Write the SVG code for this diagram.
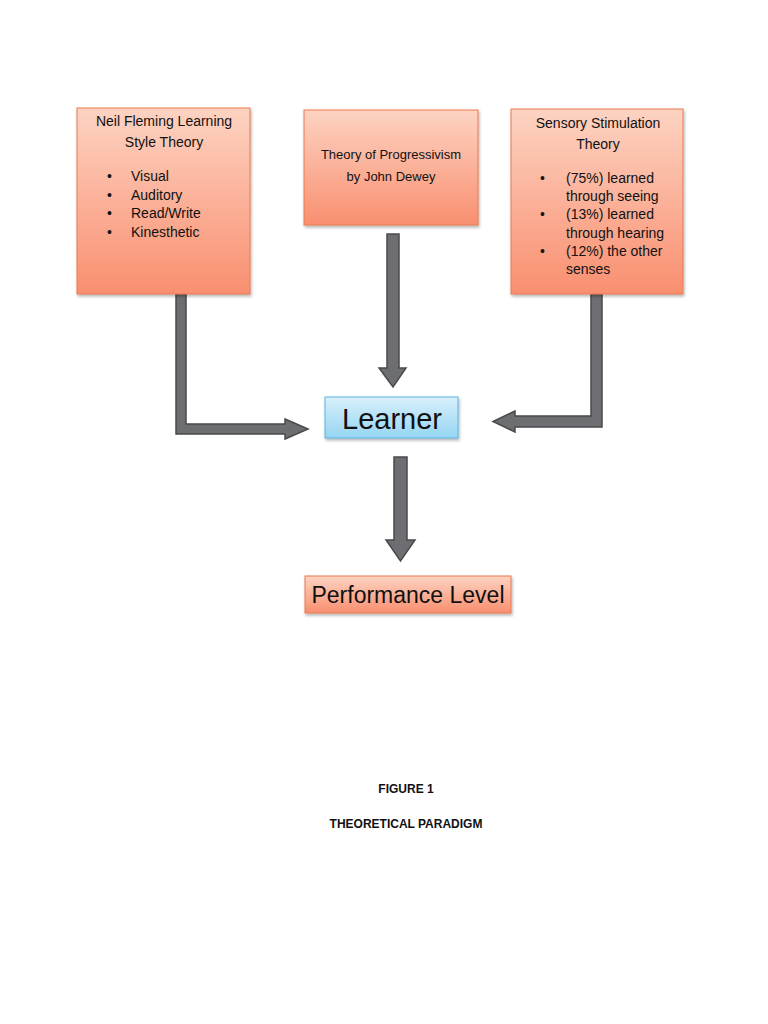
<svg xmlns="http://www.w3.org/2000/svg" width="768" height="1024" viewBox="0 0 768 1024">
<defs>
<linearGradient id="og" x1="0" y1="0" x2="0" y2="1"><stop offset="0" stop-color="#fdd3c2"/><stop offset="1" stop-color="#f98f70"/></linearGradient>
<linearGradient id="bg" x1="0" y1="0" x2="0" y2="1"><stop offset="0" stop-color="#d8f0fb"/><stop offset="1" stop-color="#95d5f2"/></linearGradient>
<filter id="sh" x="-10%" y="-10%" width="130%" height="130%"><feDropShadow dx="1" dy="2" stdDeviation="1.5" flood-opacity="0.3"/></filter>
</defs>
<style>
.o{fill:url(#og);stroke:#e97a4e;stroke-width:1;filter:url(#sh)}
.t{font-family:"Liberation Sans",Arial,sans-serif;fill:#111}
.a{fill:#6d6e71;stroke:#4a4a4c;stroke-width:1.5}
</style>
<rect width="768" height="1024" fill="#fff"/>
<g id="connectors">
<path class="a" d="M176,294 H186 V424 H285 V419 L308,429 L285,439 V434 H176 Z"/>
<path class="a" d="M387,234 H399 V368 H406 L393,387 L379,368 H387 Z"/>
<path class="a" d="M591,294 H602 V427 H515 V432 L493,421.5 L515,411 V416 H591 Z"/>
<path class="a" d="M394,457 H407 V540 H415 L400.5,561 L386,540 H394 Z"/>
</g>
<g id="neil">
<rect class="o" x="77" y="108" width="173" height="186"/>
<text class="t" font-size="14" text-anchor="middle" x="164" y="126">Neil Fleming Learning</text>
<text class="t" font-size="14" text-anchor="middle" x="164" y="147">Style Theory</text>
<text class="t" font-size="14"><tspan x="107" y="181">•</tspan><tspan x="131" y="181">Visual</tspan><tspan x="107" y="200">•</tspan><tspan x="131" y="200">Auditory</tspan><tspan x="107" y="218">•</tspan><tspan x="131" y="218">Read/Write</tspan><tspan x="107" y="237">•</tspan><tspan x="131" y="237">Kinesthetic</tspan></text>
</g>
<g id="dewey">
<rect class="o" x="304" y="110" width="174" height="115"/>
<text class="t" font-size="13" text-anchor="middle" x="391" y="159">Theory of Progressivism</text>
<text class="t" font-size="13" text-anchor="middle" x="391" y="181">by John Dewey</text>
</g>
<g id="sensory">
<rect class="o" x="511" y="109" width="172" height="185"/>
<text class="t" font-size="14" text-anchor="middle" x="598" y="128">Sensory Stimulation</text>
<text class="t" font-size="14" text-anchor="middle" x="598" y="149">Theory</text>
<text class="t" font-size="14"><tspan x="540" y="183">•</tspan><tspan x="566" y="183">(75%) learned</tspan><tspan x="566" y="201">through seeing</tspan><tspan x="540" y="219">•</tspan><tspan x="566" y="219">(13%) learned</tspan><tspan x="566" y="238">through hearing</tspan><tspan x="540" y="256">•</tspan><tspan x="566" y="256">(12%) the other</tspan><tspan x="566" y="274">senses</tspan></text>
</g>
<g id="learner">
<rect x="325" y="397" width="133" height="41" fill="url(#bg)" stroke="#5ab4e0" filter="url(#sh)"/>
<text class="t" font-size="29" text-anchor="middle" x="392" y="429">Learner</text>
</g>
<g id="performance">
<rect class="o" x="305" y="576" width="206" height="37"/>
<text class="t" font-size="23" text-anchor="middle" x="408" y="603">Performance Level</text>
</g>
<text class="t" font-size="12" font-weight="bold" text-anchor="middle" x="406" y="793">FIGURE 1</text>
<text class="t" font-size="12" font-weight="bold" text-anchor="middle" x="406" y="828">THEORETICAL PARADIGM</text>
</svg>
